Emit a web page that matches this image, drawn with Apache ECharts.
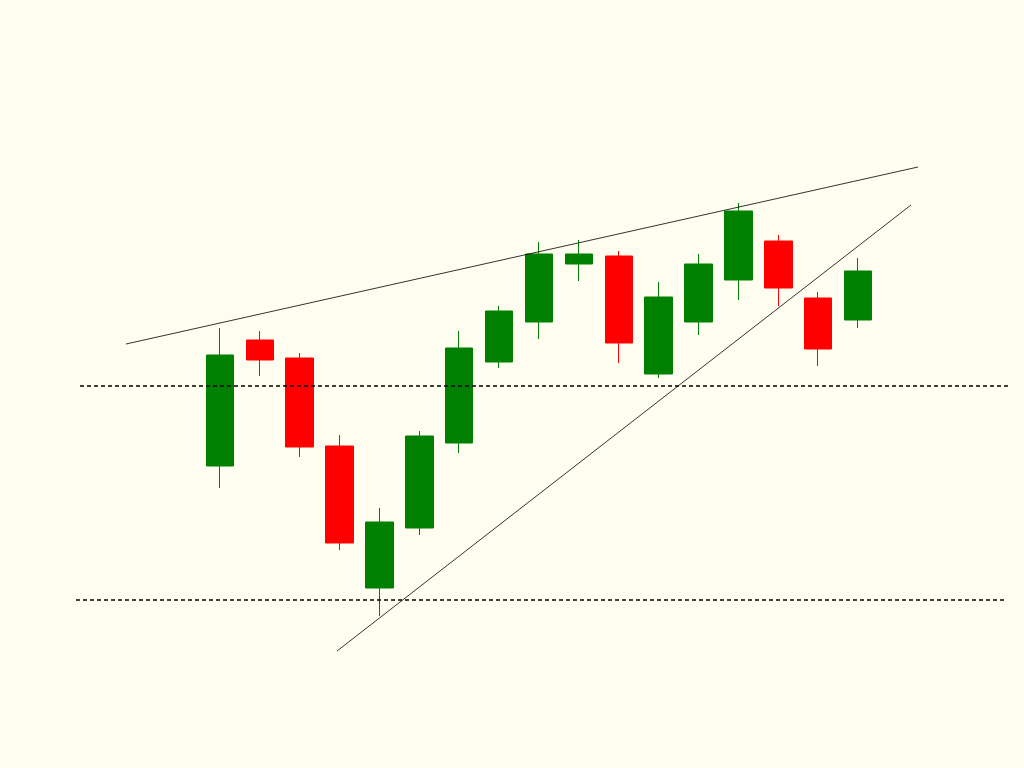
<!DOCTYPE html>
<html><head><meta charset="utf-8">
<script src="https://cdn.jsdelivr.net/npm/echarts@6/dist/echarts.min.js"></script>
<style>html,body{margin:0;background:#fffcf0}#c{width:1024px;height:768px}</style>
</head><body><div id="c"></div>
<script>
// candles: [open, close, low, high]
var days = ['1','2','3','4','5','6','7','8','9','10','11','12','13','14','15','16','17'];
var candles = [
    [302, 413, 280, 440], [428, 408, 392, 437], [410, 321, 311, 415],
    [322, 225, 218, 333], [180, 246, 152, 260], [240, 332, 233, 337],
    [325, 420, 315, 437], [406, 457, 400, 462], [446, 514, 429, 526],
    [504, 514, 487, 528], [512, 425, 405, 517], [394, 471, 390, 486],
    [446, 504, 433, 514], [488, 557, 468, 565], [527, 480, 462, 533],
    [470, 419, 402, 476], [448, 497, 440, 510]
];
var upperTrend = [[126, 424], [918, 601]];
var lowerTrend = [[337, 117], [911, 563]];
var resistance = [[80, 382], [1010, 382]];
var support = [[76, 168], [1006, 168]];

var chart = echarts.init(document.getElementById('c'));
function line(data, dashed, width) {
    return {
        type: 'line', xAxisIndex: 1, yAxisIndex: 1, data: data, symbol: 'none',
        silent: true, lineStyle: {color: '#000', width: width, type: dashed ? [4, 3] : 'solid'}
    };
}
chart.setOption({
    backgroundColor: '#fffcf0',
    animation: false,
    grid: [
        {left: 200, width: 678, top: 0, bottom: 0},
        {left: 0, right: 0, top: 0, bottom: 0}
    ],
    xAxis: [
        {type: 'category', data: days, show: false, gridIndex: 0},
        {type: 'value', min: 0, max: 1024, show: false, gridIndex: 1}
    ],
    yAxis: [
        {type: 'value', min: 0, max: 768, show: false, gridIndex: 0},
        {type: 'value', min: 0, max: 768, show: false, gridIndex: 1}
    ],
    series: [
        line(upperTrend, false, 0.8),
        line(lowerTrend, false, 0.8),
        line(resistance, true, 1.5),
        line(support, true, 1.5),
        {
            type: 'candlestick', data: candles, barWidth: 28,
            itemStyle: {color: '#008000', color0: '#ff0000', borderColor: '#008000', borderColor0: '#ff0000', borderWidth: 1}
        }
    ]
});
</script></body></html>
